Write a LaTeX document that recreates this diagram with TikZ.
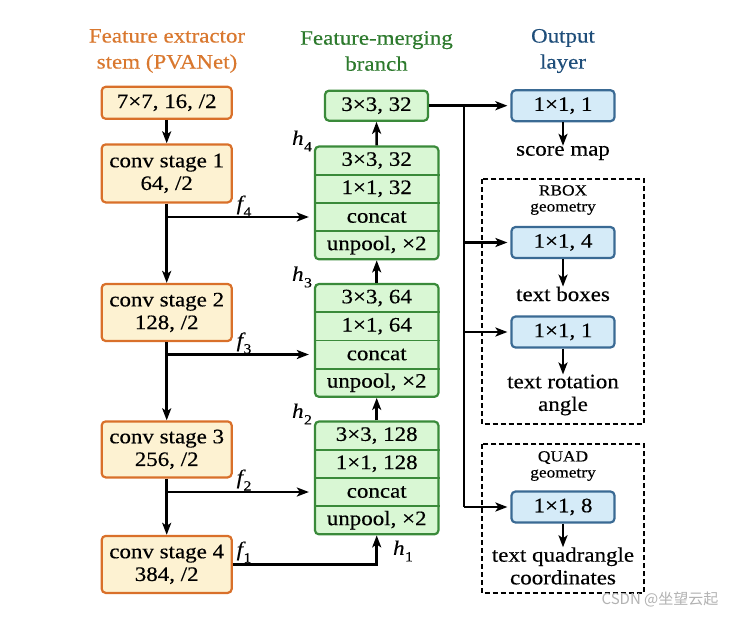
\documentclass[tikz,border=0pt]{standalone}
\usepackage{fontspec}
\setmainfont{Liberation Serif}[FakeStretch=1.12,FakeBold=0.4]
\newfontfamily\cjkfont{Noto Sans CJK SC}
\usetikzlibrary{arrows.meta}
\definecolor{obrd}{HTML}{D9702A}
\definecolor{ofill}{HTML}{FDF2D2}
\definecolor{otxt}{HTML}{D9782F}
\definecolor{gbrd}{HTML}{3A8A3A}
\definecolor{gfill}{HTML}{D9F7D4}
\definecolor{gtxt}{HTML}{2D7A2D}
\definecolor{bbrd}{HTML}{3A6A94}
\definecolor{bfill}{HTML}{D5EBF8}
\definecolor{btxt}{HTML}{1F4E7A}
\newcommand\sublab[2]{{\itshape #1}\kern0.5pt\raisebox{-0.32em}{\fontsize{14}{14}\selectfont #2}}
\tikzset{
  base/.style={font=\fontsize{20.5}{22.7}\selectfont, inner sep=0pt, align=center},
  obox/.style={base, draw=obrd, fill=ofill, line width=2.2pt, rounded corners=4pt, minimum width=130pt},
  gbox/.style={base, draw=gbrd, fill=gfill, line width=2.2pt, rounded corners=4pt, minimum width=103pt, minimum height=30pt},
  gstack/.style={draw=gbrd, fill=gfill, line width=2.2pt, rounded corners=4pt, minimum width=123.5pt, minimum height=112.8pt, inner sep=0pt},
  rowtxt/.style={base},
  bbox/.style={base, draw=bbrd, fill=bfill, line width=2.2pt, rounded corners=4pt, minimum width=103pt, minimum height=31pt},
  arr/.style={-{Stealth[length=12pt,width=9pt,inset=3pt]}, line width=2.6pt},
  ln/.style={line width=2.6pt},
  sep/.style={draw=gbrd, line width=1.8pt},
  title/.style={inner sep=0pt, align=center, font=\fontsize{20.5}{26}\selectfont},
  txt/.style={base},
  small/.style={font=\fontsize{15.5}{16}\selectfont, align=center, inner sep=0pt},
  dashbox/.style={draw, line width=1.7pt, dash pattern=on 5pt off 3pt},
  lab/.style={font=\fontsize{20.5}{22.7}\selectfont, inner sep=0pt}
}
\begin{document}
\begin{tikzpicture}[x=1pt,y=-1pt]
\useasboundingbox (0,0) rectangle (743,616);

% titles
\node[title, text=otxt] (t1) at (167,51) {Feature extractor\\stem (PVANet)};
\node[title, text=gtxt] (t2) at (376.5,51) {Feature-merging\\branch};
\node[title, text=btxt] (t3) at (563,51) {Output\\layer};

% left column
\node[obox, minimum height=32pt] (n0) at (166.7,102.8) {7×7, 16, /2};
\node[obox, minimum height=58pt] (s1) at (166.7,173.4) {conv stage 1\\64, /2};
\node[obox, minimum height=57pt] (s2) at (166.7,312.5) {conv stage 2\\128, /2};
\node[obox, minimum height=56pt] (s3) at (166.7,449.4) {conv stage 3\\256, /2};
\node[obox, minimum height=57pt] (s4) at (166.7,564.4) {conv stage 4\\384, /2};

% middle column
\node[gbox] (g0) at (376.5,105.7) {3×3, 32};

\node[gstack] (A) at (376.7,202.9) {};
\node[rowtxt] (A1) at (376.7,160.6) {3×3, 32};
\node[rowtxt] (A2) at (376.7,188.8) {1×1, 32};
\node[rowtxt] (A3) at (376.7,217.0) {concat};
\node[rowtxt] (A4) at (376.7,245.2) {unpool, ×2};
\foreach \yy in {174.7,202.9,231.1} \draw[sep] (A.west |- 0,\yy) -- (A.east |- 0,\yy);

\node[gstack] (B) at (376.7,340.4) {};
\node[rowtxt] (B1) at (376.7,298.1) {3×3, 64};
\node[rowtxt] (B2) at (376.7,326.3) {1×1, 64};
\node[rowtxt] (B3) at (376.7,354.5) {concat};
\node[rowtxt] (B4) at (376.7,382.7) {unpool, ×2};
\foreach \yy in {312.2,340.4,368.6} \draw[sep] (B.west |- 0,\yy) -- (B.east |- 0,\yy);

\node[gstack] (C) at (376.7,477.9) {};
\node[rowtxt] (C1) at (376.7,435.6) {3×3, 128};
\node[rowtxt] (C2) at (376.7,463.8) {1×1, 128};
\node[rowtxt] (C3) at (376.7,492.0) {concat};
\node[rowtxt] (C4) at (376.7,520.2) {unpool, ×2};
\foreach \yy in {449.7,477.9,506.1} \draw[sep] (C.west |- 0,\yy) -- (C.east |- 0,\yy);

% right column
\node[bbox] (b1) at (563,105.7) {1×1, 1};
\node[txt] (o1) at (563,153) {score map};
\draw[dashbox] (481.7,179) rectangle (644,424);
\node[small] (r1) at (563,200) {RBOX\\geometry};
\node[bbox] (b2) at (563,242.5) {1×1, 4};
\node[txt] (o2) at (563,294) {text boxes};
\node[bbox] (b3) at (563,332) {1×1, 1};
\node[txt] (o3) at (563,395) {text rotation\\angle};
\draw[dashbox] (481.7,444) rectangle (644,593);
\node[small] (r2) at (563,466) {QUAD\\geometry};
\node[bbox] (b4) at (563,507) {1×1, 8};
\node[txt] (o4) at (563,566) {text quadrangle\\coordinates};

% left arrows
\draw[arr] (n0) -- (s1);
\draw[arr] (s1) -- (s2);
\draw[arr] (s2) -- (s3);
\draw[arr] (s3) -- (s4);
\draw[arr, shorten >=5pt] (s1.south |- A3) -- (A.west |- A3);
\draw[arr, shorten >=5pt] (s2.south |- B3) -- (B.west |- B3);
\draw[arr, shorten >=5pt] (s3.south |- C3) -- (C.west |- C3);
\draw[arr] (s4.east) -| (C.south);

% middle arrows
\draw[arr] (C.north) -- (B.south);
\draw[arr] (B.north) -- (A.south);
\draw[arr] (A.north) -- (g0.south);

% labels
\node[lab] (f4) at (244,206) {\sublab{f}{4}};
\node[lab] (f3) at (244,343) {\sublab{f}{3}};
\node[lab] (f2) at (244,480) {\sublab{f}{2}};
\node[lab] (f1) at (244,552) {\sublab{f}{1}};
\node[lab] (h4) at (302,141) {\sublab{h}{4}};
\node[lab] (h3) at (302,277) {\sublab{h}{3}};
\node[lab] (h2) at (302,414) {\sublab{h}{2}};
\node[lab] (h1) at (403,551) {\sublab{h}{1}};

% output arrows
\coordinate (tr) at (464,105.7);
\draw[arr, shorten >=3pt] (g0.east) -- (b1.west);
\draw[ln] (tr) -- (tr |- b4.west);
\draw[arr, shorten >=3pt] (tr |- b2.west) -- (b2.west);
\draw[arr, shorten >=3pt] (tr |- b3.west) -- (b3.west);
\draw[arr, shorten >=3pt] (tr |- b4.west) -- (b4.west);
\draw[arr] (b1.south) -- (o1.north);
\draw[arr] (b2.south) -- (o2.north);
\draw[arr] (b3.south) -- (o3.north);
\draw[arr] (b4.south) -- (o4.north);

% watermark
\node[text=black!30, font=\cjkfont\fontsize{15}{15}\selectfont, inner sep=0pt] (wm) at (660,599) {CSDN @坐望云起};
\end{tikzpicture}
\end{document}
